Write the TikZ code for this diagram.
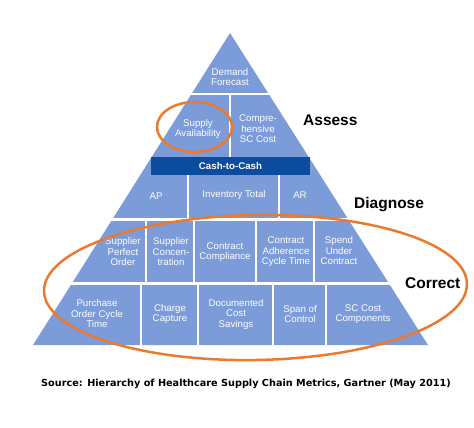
\documentclass[tikz,border=0pt]{standalone}
\usepackage{fontspec}
\setmainfont{Liberation Sans}
\newfontfamily\srcfont{DejaVu Sans}
\definecolor{pyrblue}{HTML}{7B9BD9}
\definecolor{cashblue}{HTML}{0B4C9E}
\definecolor{ringorange}{HTML}{EB7A2E}
\tikzset{
	cell/.style={align=center, text=white, font=\fontsize{9.7}{10.5}\selectfont, inner sep=0pt},
	gap/.style={draw=white, line width=2.5pt},
	stage/.style={anchor=base west, font=\fontsize{15.5}{18}\selectfont\bfseries, inner sep=0pt},
	ring/.style={draw=ringorange, line width=2.5pt},
}

\begin{document}
\begin{tikzpicture}[x=1pt, y=-1pt]
	\useasboundingbox (0, 0) rectangle (474, 428);
	% Pyramid, gaps and dividers:
	\fill[pyrblue] (230, 33) -- (428, 345) -- (33, 345) -- cycle;
	\draw[gap] (150, 94) -- (310, 94);
	\draw[gap] (60, 219.5) -- (400, 219.5);
	\draw[gap] (20, 283.5) -- (440, 283.5);
	\draw[gap] (230, 94) -- (230, 157);
	\foreach \x in {188, 279} \draw[gap] (\x, 175) -- (\x, 219.5);
	\foreach \x in {146, 194, 256, 314} \draw[gap] (\x, 219.5) -- (\x, 283.5);
	\foreach \x in {141, 198, 273, 326} \draw[gap] (\x, 283.5) -- (\x, 345);
	\node[fill=cashblue, minimum width=159pt, minimum height=18pt, inner sep=0pt, text=white, font=\fontsize{9.7}{11}\selectfont\bfseries] (cash) at (230.5, 166) {Cash-to-Cash};
	% Cells:
	\node[cell] (demand) at (230, 77) {Demand\\Forecast};
	\node[cell] (supply) at (198, 129) {Supply\\Availability};
	\node[cell] (sccost) at (258, 129) {Compre-\\hensive\\SC Cost};
	\node[cell] (ap) at (156, 196) {AP};
	\node[cell] (inventory) at (234, 195) {Inventory Total};
	\node[cell] (ar) at (300, 195) {AR};
	\node[cell] (perfect) at (123, 252) {Supplier\\Perfect\\Order};
	\node[cell] (concentration) at (171, 252) {Supplier\\Concen-\\tration};
	\node[cell] (compliance) at (225, 252) {Contract\\Compliance};
	\node[cell] (adherence) at (286, 252) {Contract\\Adherence\\Cycle Time};
	\node[cell] (spend) at (339, 251) {Spend\\Under\\Contract};
	\node[cell] (pocycle) at (97, 314) {Purchase\\Order Cycle\\Time};
	\node[cell] (charge) at (170, 314) {Charge\\Capture};
	\node[cell] (savings) at (236, 314) {Documented\\Cost\\Savings};
	\node[cell] (span) at (300, 314) {Span of\\Control};
	\node[cell] (components) at (363, 314) {SC Cost\\Components};
	% Rings and stages:
	\draw[ring] (194.5, 127) ellipse [x radius=37.5pt, y radius=25pt];
	\draw[ring, rotate around={1:(255.5, 287.5)}] (255.5, 287.5) ellipse [x radius=211.5pt, y radius=72.5pt];
	\node[stage] (assess) at (303, 125) {Assess};
	\node[stage] (diagnose) at (354, 208) {Diagnose};
	\node[stage] (correct) at (405, 288) {Correct};
	\node[font=\fontsize{9.7}{11}\srcfont\bfseries, inner sep=0pt] (source) at (246, 384) {Source: Hierarchy of Healthcare Supply Chain Metrics, Gartner (May 2011)};
\end{tikzpicture}
\end{document}
